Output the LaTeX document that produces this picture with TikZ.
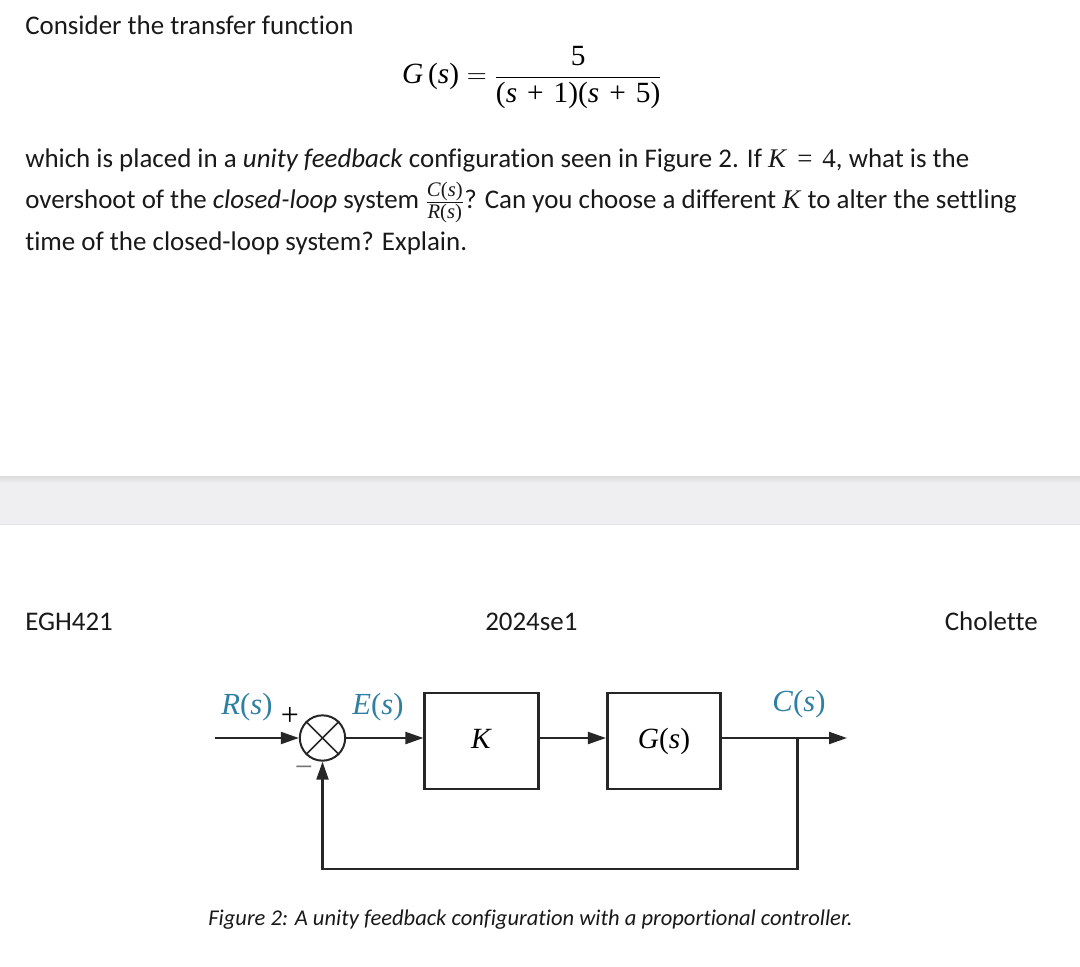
\documentclass[tikz,border=0pt]{standalone}
\usepackage{amsmath}
\usepackage{fontspec}
\setmainfont[Ligatures=NoCommon]{Carlito}
\newfontfamily\blockfont{Liberation Serif}
\usetikzlibrary{arrows.meta}
\definecolor{labelblue}{HTML}{2F7FA3}
\definecolor{linedark}{HTML}{262626}
\definecolor{bandgrey}{HTML}{EFEFF1}
\newcommand{\eqgap}{\hspace{7.5pt}}
\newcommand{\smallfrac}[1]{\mbox{\blockfont\fontsize{15.5}{16}\selectfont #1}}
\tikzset{
	bodytext/.style={anchor=base west, inner sep=0, font=\fontsize{20.2}{24}\selectfont, text=black!90},
	blockbox/.style={draw=linedark, line width=2.1pt, minimum width=85pt, minimum height=72pt, inner sep=0, font=\blockfont\fontsize{22}{26}\selectfont},
	sumjunction/.style={circle, draw=linedark, line width=1.5pt, minimum size=34pt, inner sep=0},
	signal/.style={draw=linedark, line width=1.6pt, -{Triangle[length=13.5pt,width=9pt]}},
	wire/.style={draw=linedark, line width=1.6pt},
	sigpalabel/.style={inner sep=0, text=labelblue, font=\blockfont\fontsize{23}{26}\selectfont},
}
\begin{document}
\begin{tikzpicture}[x=0.75pt,y=-0.75pt]
		%%%%% START %%%%%
		\useasboundingbox (0, 0) rectangle (1080, 966);
		
		\node[bodytext] (intro) at (25, 35) {Consider the transfer function};
		\node[inner sep=0, anchor=base, font=\blockfont\fontsize{22}{26}\selectfont] (eqn) at (532, 84) {$\displaystyle \mbox{\textit{G}\,(\textit{s})} = \frac{\mbox{5}}{\mbox{(\textit{s}\eqgap+\eqgap1)(\textit{s}\eqgap+\eqgap5)}}$};
		
		\node[bodytext] (lineone) at (25, 168) {which is placed in a \textit{unity feedback} configuration seen in Figure 2. If {\blockfont\textit{K}\eqgap=\eqgap4}, what is the};
		\node[bodytext] (linetwo) at (25, 209) {overshoot of the \textit{closed-loop} system $\frac{\smallfrac{\textit{C}(\textit{s})}}{\smallfrac{\textit{R}(\textit{s})}}$? Can you choose a different {\blockfont\textit{K}} to alter the settling};
		\node[bodytext] (linethree) at (25, 250) {time of the closed-loop system? Explain.};
		
		% grey band between the pages
		\fill[bandgrey] (0, 476) rectangle (1080, 524);
		\shade[top color=black!14, bottom color=bandgrey] (0, 476) rectangle (1080, 483);
		\fill[black!11] (0, 523.5) rectangle (1080, 525);
		
		\node[bodytext] (course) at (25, 630) {EGH421};
		\node[bodytext] (term) at (485, 630) {2024se1};
		\node[bodytext, anchor=base east] (name) at (1038, 630) {Cholette};
		
		% block diagram
		\coordinate (input) at (215, 738);
		\node[sumjunction] (sum) at (322.5, 738) {};
		\node[blockbox] (ctrl) at (481.5, 741) {\raisebox{2.5pt}{\textit{K}}};
		\node[blockbox] (plant) at (664, 741) {\raisebox{2pt}{\textit{G}(\textit{s})}};
		\coordinate (tap) at (797.5, 738);
		\coordinate (output) at (847, 738);
		\coordinate (corner) at (322.5, 869);
		
		\draw[wire, line width=1.1pt] (sum.45) -- (sum.225);
		\draw[wire, line width=1.1pt] (sum.135) -- (sum.315);
		
		\draw[signal] (input) -- (sum.west);
		\draw[signal] (sum.east) -- (ctrl.west |- sum.east);
		\draw[signal] (ctrl.east |- sum.east) -- (plant.west |- sum.east);
		\draw[signal] (plant.east |- sum.east) -- (output);
		\draw[signal] (tap) -- (tap |- corner) -- (corner) -- (sum.south);
		
		\node[sigpalabel] (rlabel) at (247, 707) {\textit{R}(\textit{s})};
		\node[sigpalabel] (elabel) at (378, 707) {\textit{E}(\textit{s})};
		\node[sigpalabel] (clabel) at (799, 704) {\textit{C}(\textit{s})};
		\node[inner sep=0, font=\blockfont\fontsize{24}{26}\selectfont] (plus) at (290, 716) {+};
		\node[inner sep=0, font=\blockfont\fontsize{24}{26}\selectfont, text=black!55] (minus) at (304, 772) {\textminus};
		
		\node[bodytext, anchor=base, font=\itshape\fontsize{16.9}{20}\selectfont] (caption) at (530.5, 925) {Figure 2: A unity feedback configuration with a proportional controller.};
		%%%%% END %%%%%
	\end{tikzpicture}
\end{document}
